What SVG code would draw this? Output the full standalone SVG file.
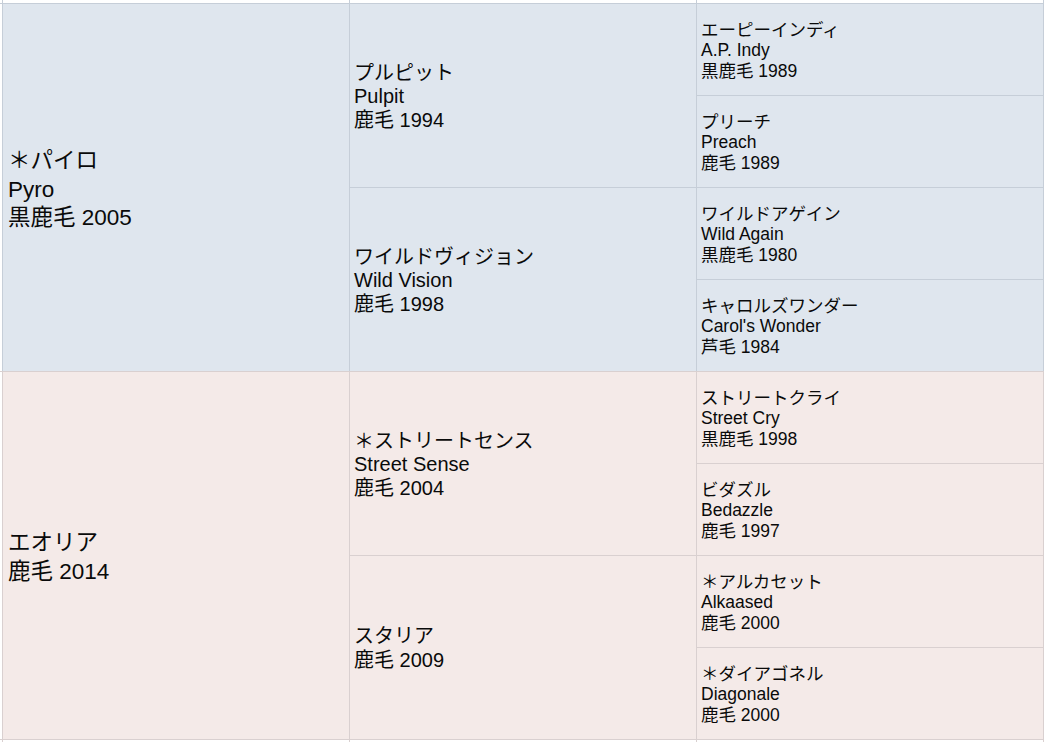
<svg xmlns="http://www.w3.org/2000/svg" width="1045" height="742" viewBox="0 0 1045 742">
<style>
.b{fill:#dfe6ee;stroke:#c6ced8;stroke-width:1}
.p{fill:#f4eae8;stroke:#d9d0d0;stroke-width:1}
.eb{stroke:#c6ced8;stroke-width:1}
.ep{stroke:#d9d0d0;stroke-width:1}
text{font-family:"Liberation Sans","Noto Sans CJK JP",Arial,sans-serif;fill:#0a0a0a}
.g1{font-size:22.5px}
.g2{font-size:20px}
.g3{font-size:17.5px}
</style>
<rect x="0" y="0" width="1045" height="742" fill="#ffffff"/>
<g id="edges">
<line class="eb" x1="2.5" y1="0" x2="2.5" y2="4"/>
<line class="eb" x1="349.5" y1="0" x2="349.5" y2="4"/>
<line class="eb" x1="696.5" y1="0" x2="696.5" y2="4"/>
<line class="eb" x1="1043.5" y1="0" x2="1043.5" y2="4"/>
<line class="ep" x1="2.5" y1="739" x2="2.5" y2="742"/>
<line class="ep" x1="349.5" y1="739" x2="349.5" y2="742"/>
<line class="ep" x1="696.5" y1="739" x2="696.5" y2="742"/>
<line class="ep" x1="1043.5" y1="739" x2="1043.5" y2="742"/>
<line class="eb" x1="0" y1="3.5" x2="3" y2="3.5"/>
<line class="ep" x1="0" y1="371.5" x2="3" y2="371.5"/>
<line class="ep" x1="0" y1="739.5" x2="3" y2="739.5"/>
</g>
<g id="pyro">
<rect class="b" x="2.5" y="3.5" width="347" height="368"/>
<text class="g1" x="8" y="168">＊パイロ</text>
<text class="g1" x="8" y="196.5">Pyro</text>
<text class="g1" x="8" y="225">黒鹿毛 2005</text>
</g>
<g id="aoria">
<rect class="p" x="2.5" y="371.5" width="347" height="368"/>
<text class="g1" x="8" y="549.5">エオリア</text>
<text class="g1" x="8" y="578.5">鹿毛 2014</text>
</g>
<g id="pulpit">
<rect class="b" x="349.5" y="3.5" width="347" height="184"/>
<text class="g2" x="354" y="79.5">プルピット</text>
<text class="g2" x="354" y="102.5">Pulpit</text>
<text class="g2" x="354" y="126.5">鹿毛 1994</text>
</g>
<g id="wildvision">
<rect class="b" x="349.5" y="187.5" width="347" height="184"/>
<text class="g2" x="354" y="263.5">ワイルドヴィジョン</text>
<text class="g2" x="354" y="286.5">Wild Vision</text>
<text class="g2" x="354" y="310.5">鹿毛 1998</text>
</g>
<g id="streetsense">
<rect class="p" x="349.5" y="371.5" width="347" height="184"/>
<text class="g2" x="354" y="447.5">＊ストリートセンス</text>
<text class="g2" x="354" y="470.5">Street Sense</text>
<text class="g2" x="354" y="494.5">鹿毛 2004</text>
</g>
<g id="staria">
<rect class="p" x="349.5" y="555.5" width="347" height="184"/>
<text class="g2" x="354" y="643">スタリア</text>
<text class="g2" x="354" y="667">鹿毛 2009</text>
</g>
<g id="apindy">
<rect class="b" x="696.5" y="3.5" width="347" height="92"/>
<text class="g3" x="701" y="35.5">エーピーインディ</text>
<text class="g3" x="701" y="56">A.P. Indy</text>
<text class="g3" x="701" y="76.5">黒鹿毛 1989</text>
</g>
<g id="preach">
<rect class="b" x="696.5" y="95.5" width="347" height="92"/>
<text class="g3" x="701" y="127.5">プリーチ</text>
<text class="g3" x="701" y="148">Preach</text>
<text class="g3" x="701" y="168.5">鹿毛 1989</text>
</g>
<g id="wildagain">
<rect class="b" x="696.5" y="187.5" width="347" height="92"/>
<text class="g3" x="701" y="219.5">ワイルドアゲイン</text>
<text class="g3" x="701" y="240">Wild Again</text>
<text class="g3" x="701" y="260.5">黒鹿毛 1980</text>
</g>
<g id="carolswonder">
<rect class="b" x="696.5" y="279.5" width="347" height="92"/>
<text class="g3" x="701" y="311.5">キャロルズワンダー</text>
<text class="g3" x="701" y="332">Carol's Wonder</text>
<text class="g3" x="701" y="352.5">芦毛 1984</text>
</g>
<g id="streetcry">
<rect class="p" x="696.5" y="371.5" width="347" height="92"/>
<text class="g3" x="701" y="403.5">ストリートクライ</text>
<text class="g3" x="701" y="424">Street Cry</text>
<text class="g3" x="701" y="444.5">黒鹿毛 1998</text>
</g>
<g id="bedazzle">
<rect class="p" x="696.5" y="463.5" width="347" height="92"/>
<text class="g3" x="701" y="495.5">ビダズル</text>
<text class="g3" x="701" y="516">Bedazzle</text>
<text class="g3" x="701" y="536.5">鹿毛 1997</text>
</g>
<g id="alkaased">
<rect class="p" x="696.5" y="555.5" width="347" height="92"/>
<text class="g3" x="701" y="587.5">＊アルカセット</text>
<text class="g3" x="701" y="608">Alkaased</text>
<text class="g3" x="701" y="628.5">鹿毛 2000</text>
</g>
<g id="diagonale">
<rect class="p" x="696.5" y="647.5" width="347" height="92"/>
<text class="g3" x="701" y="679.5">＊ダイアゴネル</text>
<text class="g3" x="701" y="700">Diagonale</text>
<text class="g3" x="701" y="720.5">鹿毛 2000</text>
</g>
</svg>
